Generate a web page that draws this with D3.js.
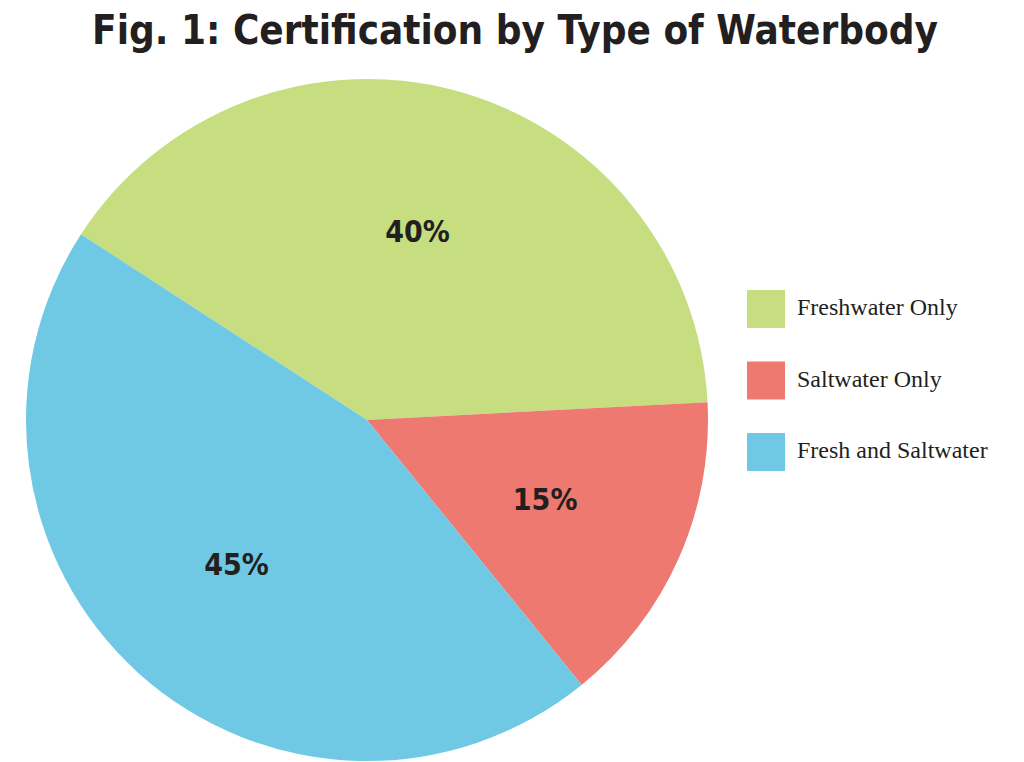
<!DOCTYPE html>
<html><head><meta charset="utf-8">
<script src="https://cdn.jsdelivr.net/npm/d3@7"></script>
<style>body{margin:0;background:#fff}</style></head>
<body><svg id="c" width="1024" height="762"></svg>
<script>
const categories = ["Freshwater Only", "Saltwater Only", "Fresh and Saltwater"];
const values = [40, 15, 45];
const colors = ["#c6dd80", "#ee7971", "#6fc9e4"];
const title = "Fig. 1: Certification by Type of Waterbody";

const svg = d3.select("#c");
const cx = 367, cy = 420, r = 341;
const deg = Math.PI / 180;
const pie = d3.pie().sort(null).startAngle(303 * deg).endAngle(663 * deg);
const arcs = pie(values);
const arc = d3.arc().innerRadius(0).outerRadius(r);
const g = svg.append("g").attr("transform", `translate(${cx},${cy})`);
g.selectAll("path").data(arcs).join("path").attr("d", arc).attr("fill", (d, i) => colors[i]);
const labelArc = d3.arc().innerRadius(0).outerRadius(390);
g.selectAll("text").data(arcs).join("text")
  .attr("transform", d => `translate(${labelArc.centroid(d)})`)
  .attr("text-anchor", "middle").attr("dy", "0.35em")
  .attr("font-family", "DejaVu Sans Condensed, DejaVu Sans").attr("font-weight", "bold")
  .attr("font-size", 30).attr("fill", "#231f20")
  .text(d => d.data + "%");

svg.append("text").attr("x", 515).attr("y", 44).attr("text-anchor", "middle")
  .attr("font-family", "DejaVu Sans Condensed, DejaVu Sans").attr("font-weight", "bold")
  .attr("font-size", 40).attr("fill", "#231f20").text(title);

const y = d3.scalePoint().domain(categories).range([290, 433]);
const box = 38;
const lg = svg.append("g");
lg.selectAll("rect").data(categories).join("rect")
  .attr("x", 747).attr("y", d => y(d)).attr("width", box).attr("height", box)
  .attr("fill", (d, i) => colors[i]);
lg.selectAll("text").data(categories).join("text")
  .attr("x", 797).attr("y", d => y(d) + box / 2 - 2).attr("dy", "0.35em")
  .attr("font-family", "Liberation Serif").attr("font-size", 24).attr("fill", "#231f20")
  .text(d => d);
</script></body></html>
